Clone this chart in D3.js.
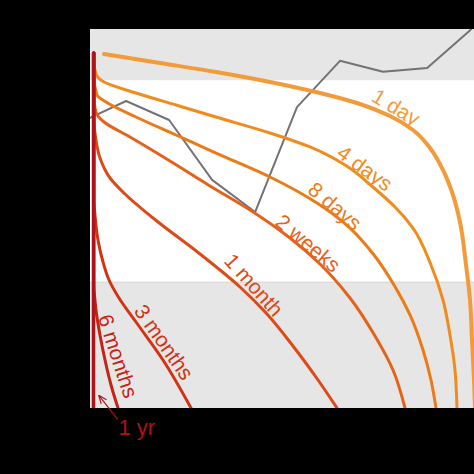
<!DOCTYPE html>
<html>
<head>
<meta charset="utf-8">
<script src="https://cdn.jsdelivr.net/npm/d3@7"></script>
<style>
  html, body { margin: 0; padding: 0; background: #000; }
  svg { display: block; }
  text { font-family: "Liberation Sans", Arial, sans-serif; }
</style>
</head>
<body>
<svg id="chart"></svg>
<script>
// curve names, colours and points (x: 0-100, y: 0-100)
let seriesNames = ['1 day', '4 days', '8 days', '2 weeks', '1 month', '3 months', '6 months', '1 yr'];
let seriesColors = ['#f39b3a', '#f08b1e', '#ec7a17', '#e5621a', '#db4a17', '#d03414', '#c72216', '#b01219'];

let day1 = [[3.65, 93.40], [18.23, 91.03], [32.81, 88.65], [46.88, 86.02], [59.90, 83.11], [70.31, 80.21],
  [78.13, 77.04], [84.11, 73.35], [88.54, 68.60], [91.93, 62.80], [94.53, 56.20], [96.35, 49.08],
  [97.92, 37.73], [98.96, 28.50], [99.48, 17.94], [100, 7.39], [100.26, 0]];
let days4 = [[1.04, 93.67], [1.04, 91.29], [1.56, 88.13], [3.65, 86.02], [11.98, 83.11], [22.40, 79.95],
  [32.81, 76.78], [46.88, 72.56], [57.29, 68.87], [66.41, 64.12], [73.96, 58.05], [79.43, 53.03],
  [84.11, 47.49], [88.80, 37.73], [91.93, 28.50], [93.75, 19.26], [95.05, 10.03], [95.57, 0]];
let days8 = [[1.04, 93.67], [1.04, 87.07], [1.82, 82.59], [4.17, 80.74], [11.98, 76.78], [22.40, 72.03],
  [32.81, 67.28], [46.88, 60.95], [59.11, 54.09], [67.71, 47.49], [73.96, 40.37], [79.17, 32.45],
  [83.33, 24.54], [86.72, 15.30], [88.80, 7.39], [90.10, 0]];
let weeks2 = [[1.04, 93.67], [1.04, 82.59], [1.30, 79.16], [2.08, 77.04], [3.65, 75.46], [10.42, 71.50],
  [20.83, 65.17], [31.25, 58.58], [41.67, 52.24], [52.08, 44.85], [59.90, 37.99], [67.71, 29.02],
  [74.22, 19.00], [78.91, 10.03], [82.03, 0]];
let month1 = [[1.04, 93.67], [1.04, 75.99], [1.56, 70.71], [2.60, 65.96], [5.21, 60.69], [9.11, 56.46],
  [16.41, 50.13], [28.65, 40.63], [39.06, 31.93], [46.09, 24.80], [52.86, 16.36], [59.38, 7.39],
  [64.32, 0]];
let months3 = [[1.04, 93.67], [1.04, 54.88], [1.30, 50.92], [2.08, 44.33], [3.39, 38.52], [4.95, 33.77],
  [7.55, 29.02], [11.98, 22.69], [19.01, 12.66], [26.30, 0]];
let months6 = [[1.04, 93.67], [1.04, 32.45], [1.56, 25.86], [2.60, 19.26], [3.91, 12.66], [5.47, 6.07],
  [7.29, 0]];
let year1 = [[0.91, 93.67], [0.91, 0]];
let seriesPoints = [day1, days4, days8, weeks2, month1, months3, months6, year1];

// label anchor (x, y) and slope angle in degrees
let labelX = [79.7, 71.6, 63.8, 56.8, 42.7, 19.3, 7.3];
let labelY = [79.4, 63.3, 53.3, 43.5, 32.5, 17.4, 13.7];
let labelAngle = [31, 36, 40, 40, 48, 55, 72];

// grey comparison line
let greyX = [-1.8, 9.4, 20.6, 31.8, 43.0, 53.9, 65.1, 76.3, 87.8, 99.0, 102];
let greyY = [75.7, 81.0, 76.0, 60.2, 51.7, 79.4, 91.6, 88.7, 89.7, 99.7, 103];

// shaded bands
let bands = [[86.5, 100], [0, 33.2]];

let width = 474, height = 474;
let margin = {top: 29, right: 0, bottom: 66, left: 90};
let plotRight = width - margin.right,
  plotBottom = height - margin.bottom;

let svg = d3.select('#chart')
  .attr('width', width)
  .attr('height', height);

svg.append('rect')
  .attr('width', width)
  .attr('height', height)
  .attr('fill', '#000');

let x = d3.scaleLinear().domain([0, 100]).range([margin.left, plotRight]);
let y = d3.scaleLinear().domain([0, 100]).range([plotBottom, margin.top]);

let defs = svg.append('defs');

defs.append('clipPath')
  .attr('id', 'plot-clip')
  .append('rect')
  .attr('x', margin.left)
  .attr('y', margin.top)
  .attr('width', plotRight - margin.left)
  .attr('height', plotBottom - margin.top);

defs.append('marker')
  .attr('id', 'arrow')
  .attr('viewBox', '0 0 10 10')
  .attr('refX', 9)
  .attr('refY', 5)
  .attr('markerWidth', 7)
  .attr('markerHeight', 7)
  .attr('orient', 'auto')
  .append('path')
  .attr('d', 'M0,1 L10,5 L0,9')
  .attr('fill', 'none')
  .attr('stroke', seriesColors[7])
  .attr('stroke-width', 1.4);

// plot background
svg.append('rect')
  .attr('x', margin.left)
  .attr('y', margin.top)
  .attr('width', plotRight - margin.left)
  .attr('height', plotBottom - margin.top)
  .attr('fill', '#fff');

let plot = svg.append('g').attr('clip-path', 'url(#plot-clip)');

plot.selectAll('.band')
  .data(bands)
  .enter().append('rect')
  .attr('class', 'band')
  .attr('x', margin.left)
  .attr('width', plotRight - margin.left)
  .attr('y', (d) => y(d[1]))
  .attr('height', (d) => y(d[0]) - y(d[1]))
  .attr('fill', '#e6e6e6');

plot.append('line')
  .attr('x1', margin.left).attr('x2', plotRight)
  .attr('y1', y(bands[1][1])).attr('y2', y(bands[1][1]))
  .attr('stroke', '#d4d4d4')
  .attr('stroke-width', 1);

// grey line
plot.append('path')
  .datum(greyX.map((v, i) => [v, greyY[i]]))
  .attr('fill', 'none')
  .attr('stroke', '#737373')
  .attr('stroke-width', 2)
  .attr('stroke-linejoin', 'round')
  .attr('d', d3.line().x((d) => x(d[0])).y((d) => y(d[1])));

// decay curves; y falls steadily along each one, so a monotone-in-y curve keeps them smooth
let line = d3.line()
  .x((d) => x(d[0]))
  .y((d) => y(d[1]))
  .curve(d3.curveMonotoneY);

plot.selectAll('.curve')
  .data(seriesPoints)
  .enter().append('path')
  .attr('class', 'curve')
  .attr('fill', 'none')
  .attr('stroke', (d, i) => seriesColors[i])
  .attr('stroke-width', (d, i) => i === 0 ? 4 : (i === 7 ? 3.5 : 3))
  .attr('stroke-linecap', 'round')
  .attr('d', line);

// rotated labels along the curves
svg.selectAll('.label')
  .data(labelX.map((v, i) => i))
  .enter().append('text')
  .attr('class', 'label')
  .attr('transform', (i) => 'translate(' + x(labelX[i]) + ',' + y(labelY[i]) + ') rotate(' + labelAngle[i] + ')')
  .attr('text-anchor', 'middle')
  .attr('dy', '0.35em')
  .attr('font-size', 21)
  .attr('fill', (i) => seriesColors[i])
  .text((i) => seriesNames[i]);

// "1 yr" note with arrow
svg.append('line')
  .attr('x1', x(7.2)).attr('y1', y(-3.0))
  .attr('x2', x(2.4)).attr('y2', y(3.2))
  .attr('stroke', seriesColors[7])
  .attr('stroke-width', 1.2)
  .attr('marker-end', 'url(#arrow)');

svg.append('text')
  .attr('x', x(7.4))
  .attr('y', y(-7.1))
  .attr('font-size', 22)
  .attr('fill', seriesColors[7])
  .text(seriesNames[7]);
</script>
</body>
</html>
